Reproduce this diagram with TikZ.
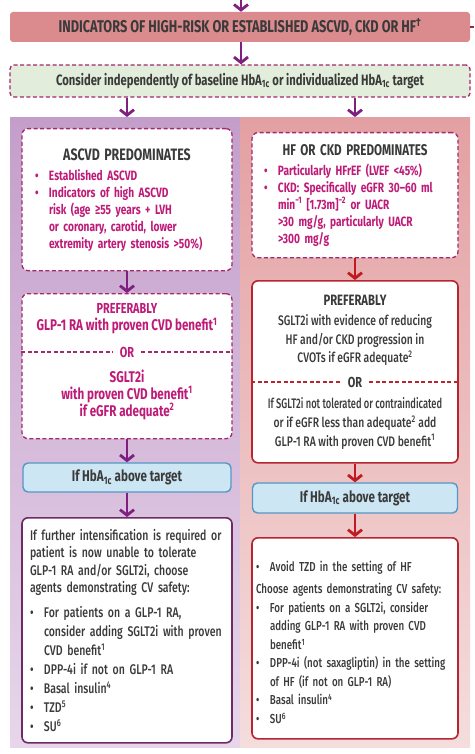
\documentclass[tikz,border=0pt]{standalone}
\usepackage{fontspec}
\usepackage{graphicx}
\setmainfont{Fira Sans}[FakeStretch=0.75, UprightFont={* Medium}, BoldFont={* Bold}]
\usetikzlibrary{arrows.meta}
\setlength{\parindent}{0pt}

\definecolor{riskfill}{HTML}{DB8A8E}
\definecolor{stubline}{HTML}{8C2A5A}
\definecolor{consfill}{HTML}{E3EDDB}
\definecolor{dashmag}{HTML}{A3286C}
\definecolor{txtdark}{HTML}{3A3A3A}
\definecolor{txtmag}{HTML}{BE1B78}
\definecolor{arrpurple}{HTML}{7F1F80}
\definecolor{arrred}{HTML}{C01A22}
\definecolor{boxred}{HTML}{B52630}
\definecolor{boxpurple}{HTML}{6E2A66}
\definecolor{hbafill}{HTML}{CDE6F3}
\definecolor{hbaline}{HTML}{5597C6}
\definecolor{lpaneltop}{HTML}{C49ECA}
\definecolor{lpanelbot}{HTML}{E7D6EA}
\definecolor{rpaneltop}{HTML}{E3A0A2}
\definecolor{rpanelbot}{HTML}{F5DDDD}

% bullet line with hanging indent
\newcommand{\itm}{\par\hangindent=14pt\hangafter=1\noindent\hbox to 14pt{\textbullet\hfil}}

\begin{document}
\begin{tikzpicture}[x=1pt,y=1pt,
  every node/.style={inner sep=0pt},
  parrow/.style={draw=arrpurple, line width=2.8pt, -{Straight Barb[length=5.5pt,width=14pt]}},
  rarrow/.style={parrow, draw=arrred},
  dashbox/.style={draw=dashmag, line width=1.3pt, dash pattern=on 4pt off 2.5pt, fill=white, rounded corners=6pt},
  redbox/.style={draw=boxred, line width=1.6pt, fill=white, rounded corners=6pt},
  purbox/.style={draw=boxpurple, line width=1.6pt, fill=white, rounded corners=6pt},
  hbabox/.style={draw=hbaline, line width=1.4pt, fill=hbafill, rounded corners=5pt, text=txtdark, font=\bfseries\fontsize{15.5}{17}\selectfont},
  magtext/.style={text=txtmag, font=\bfseries\fontsize{13.5}{17}\selectfont},
  bodytext/.style={text=txtdark, font=\fontsize{13.8}{18.5}\selectfont}]
\useasboundingbox (0,0) rectangle (474,-754);

% Panels
\node[top color=lpaneltop, bottom color=lpanelbot, minimum width=230, minimum height=630, anchor=north west] (lpanel) at (10,-117) {};
\node[top color=rpaneltop, bottom color=rpanelbot, minimum width=230, minimum height=630, anchor=north west] (rpanel) at (240,-117) {};

% Indicators
\coordinate (start) at (241,2);
\coordinate (out) at (474,-27);
\node[fill=riskfill, rounded corners=3pt, minimum width=460, minimum height=30, text=txtdark, font=\bfseries\fontsize{17}{20}\selectfont] (risk) at (240,-27) {INDICATORS OF HIGH-RISK OR ESTABLISHED ASCVD, CKD OR HF\textsuperscript{†}};
\draw[parrow] (start) -- (start |- risk.north);
\draw[draw=stubline, line width=1.5pt] (risk.east) -- (out);

% Consider
\node[dashbox, fill=consfill, rounded corners=4pt, minimum width=460, minimum height=32, text=txtdark, font=\bfseries\fontsize{15}{17}\selectfont] (consider) at (240,-81) {Consider independently of baseline HbA\textsubscript{1c} or individualized HbA\textsubscript{1c} target};
\draw[parrow] (risk.south -| start) -- (consider.north -| start);

% ASCVD
\node[dashbox, magtext, anchor=north, minimum height=142, text width=184, inner xsep=13, align=left] (ascvd) at (127,-128) {%
{\centering\color{txtdark}\fontsize{16.5}{18}\selectfont ASCVD PREDOMINATES\par}
\vspace{3pt}
\itm Established ASCVD
\itm Indicators of high ASCVD\newline risk (age ≥55 years + LVH\newline or coronary, carotid, lower\newline extremity artery stenosis >50\%)\par};

% HF / CKD
\node[dashbox, magtext, anchor=north, minimum height=125, text width=182, inner xsep=12, align=left] (hfckd) at (355,-132) {%
{\centering\color{txtdark}\fontsize{15.5}{17}\selectfont HF OR CKD PREDOMINATES\par}
\vspace{3pt}
\itm Particularly HFrEF (LVEF <45\%)
\itm CKD: Specifically eGFR 30–60 ml\newline min\textsuperscript{−1} [1.73m]\textsuperscript{−2} or UACR\newline >30 mg/g, particularly UACR\newline >300 mg/g\par};

\draw[parrow] (consider.south -| ascvd) -- (lpanel.north -| ascvd);
\draw[parrow] (consider.south -| hfckd) -- (rpanel.north -| hfckd);

% Preferably links
\node[dashbox, anchor=north, minimum width=210, minimum height=145] (prefl) at (127,-293) {};
\node[magtext, align=center, font=\bfseries\fontsize{15.5}{17}\selectfont] (glpone) at (127,-318.5) {{\fontsize{14.5}{17}\selectfont PREFERABLY}\\GLP-1 RA with proven CVD benefit\textsuperscript{1}};
\node[magtext, fill=white, inner xsep=7pt, inner ysep=2pt, font=\bfseries\fontsize{14.5}{17}\selectfont] (orl) at (127,-352) {OR};
\node[magtext, align=center, font=\bfseries\fontsize{15.5}{17}\selectfont] (sgltl) at (127,-394.5) {SGLT2i\\with proven CVD benefit\textsuperscript{1}\\if eGFR adequate\textsuperscript{2}};
\draw[draw=dashmag, line width=1.3pt, dash pattern=on 4pt off 2.5pt] (prefl.west |- orl) -- (orl.west);
\draw[draw=dashmag, line width=1.3pt, dash pattern=on 4pt off 2.5pt] (orl.east) -- (prefl.east |- orl);
\draw[parrow] (ascvd) -- (prefl);

% Preferably rechts
\node[redbox, anchor=north, minimum width=206, minimum height=182] (prefr) at (355,-280) {};
\node[bodytext, align=center] (sgltr) at (355,-330.5) {{\bfseries\fontsize{15}{17}\selectfont PREFERABLY}\\[2pt] SGLT2i with evidence of reducing\\HF and/or CKD progression in\\CVOTs if eGFR adequate\textsuperscript{2}};
\node[bodytext, fill=white, inner xsep=7pt, inner ysep=2pt, font=\bfseries\fontsize{14.5}{18}\selectfont] (orr) at (355,-382) {OR};
\node[bodytext, align=center] (glpr) at (355,-423.5) {\scalebox{0.9}[1]{If SGLT2i not tolerated or contraindicated}\\or if eGFR less than adequate\textsuperscript{2} add\\GLP-1 RA with proven CVD benefit\textsuperscript{1}};
\draw[draw=boxred, line width=1.3pt, dash pattern=on 4pt off 2.5pt] (prefr.west |- orr) -- (orr.west);
\draw[draw=boxred, line width=1.3pt, dash pattern=on 4pt off 2.5pt] (orr.east) -- (prefr.east |- orr);
\draw[rarrow] (hfckd) -- (prefr);

% HbA1c
\node[hbabox, minimum width=208, minimum height=29] (hbal) at (127,-477.5) {If HbA\textsubscript{1c} above target};
\node[hbabox, minimum width=205, minimum height=30] (hbar) at (355,-498) {If HbA\textsubscript{1c} above target};
\draw[parrow] (prefl) -- (hbal);
\draw[rarrow] (prefr) -- (hbar);

% Intensivierung links
\node[purbox, bodytext, anchor=north, minimum height=225, text width=194, inner xsep=8, align=left, font=\fontsize{14}{17.5}\selectfont] (finl) at (127,-517) {%
If further intensification is required or\newline patient is now unable to tolerate\newline GLP-1 RA and/or SGLT2i, choose\newline agents demonstrating CV safety:\par
\vspace{6pt}
\baselineskip=19pt
\itm For patients on a GLP-1 RA,\newline consider adding SGLT2i with proven\newline CVD benefit\textsuperscript{1}
\itm DPP-4i if not on GLP-1 RA
\itm Basal insulin\textsuperscript{4}
\itm TZD\textsuperscript{5}
\itm SU\textsuperscript{6}\par};

% Intensivierung rechts
\node[redbox, bodytext, anchor=north, minimum height=201, text width=198, inner xsep=4, align=left, font=\fontsize{13}{18.5}\selectfont] (finr) at (355,-537) {%
\hyphenpenalty=10000
\itm Avoid TZD in the setting of HF\par
\vspace{4pt}
Choose agents demonstrating CV safety:
\itm For patients on a SGLT2i, consider\newline adding GLP-1 RA with proven CVD\newline benefit\textsuperscript{1}
\itm DPP-4i (not saxagliptin) in the setting\newline of HF (if not on GLP-1 RA)
\itm Basal insulin\textsuperscript{4}
\itm SU\textsuperscript{6}\par};

\draw[parrow] (hbal) -- (finl);
\draw[rarrow] (hbar) -- (finr);
\end{tikzpicture}
\end{document}
